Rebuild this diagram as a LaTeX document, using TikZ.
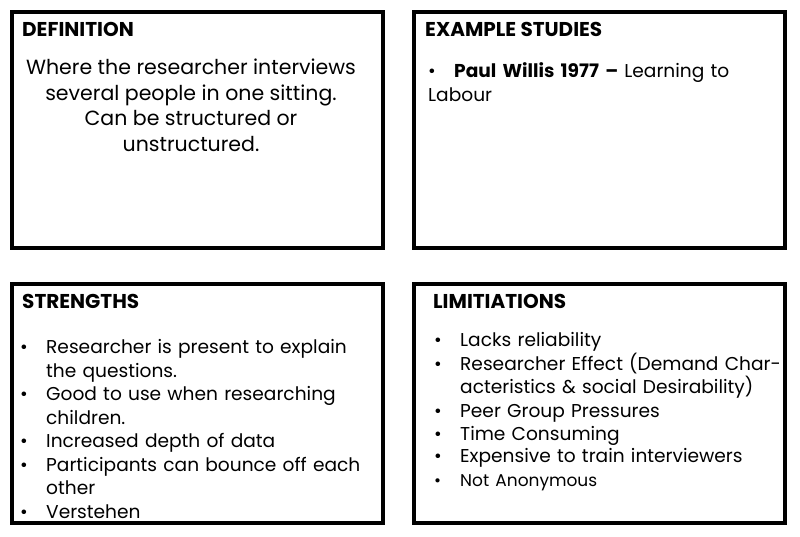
\documentclass[tikz,border=0pt]{standalone}
\usepackage{fontspec}
\setmainfont{Poppins}
\newcommand{\itm}[1]{\par\hangindent=26pt\hangafter=1\noindent\makebox[26pt][l]{\textbullet}#1}
\begin{document}
\begin{tikzpicture}[x=1pt,y=-1pt,
  card/.style={draw=black,line width=3.2pt,fill=white},
  head/.style={anchor=west,font=\fontsize{20}{22}\selectfont\bfseries,inner sep=0},
  list/.style={anchor=north west,font=\fontsize{18.6}{23.5}\selectfont,inner sep=0,text width=350,align=left}]
\useasboundingbox (0,0) rectangle (800,536);
\draw[card] (12,12) rectangle (383,248);
\draw[card] (414,12) rectangle (785,248);
\draw[card] (12,284) rectangle (383,523);
\draw[card] (414,284) rectangle (785,523);
\node[head] (h1) at (22,29) {DEFINITION};
\node[head] (h2) at (425,29) {EXAMPLE STUDIES};
\node[head] (h3) at (22,301) {STRENGTHS};
\node[head] (h4) at (433,301) {LIMITIATIONS};
\node[anchor=north,inner sep=0,align=center,font=\fontsize{20.5}{25.5}\selectfont] (d) at (191,59)
 {Where the researcher interviews\\several people in one sitting.\\Can be structured or\\unstructured.};
\node[list,text width=320] (e) at (428,54) {\itm{\textbf{Paul Willis 1977 –} Learning to Labour}};
\node[list] (s) at (20,330) {%
\itm{Researcher is present to explain the questions.}
\itm{Good to use when researching children.}
\itm{Increased depth of data}
\itm{Participants can bounce off each other}
\itm{Verstehen}};
\node[list] (l) at (434,323) {%
\itm{Lacks reliability}
\itm{Researcher Effect (Demand Characteristics \& social Desirability)}
\itm{Peer Group Pressures}
\itm{Time Consuming}
\itm{Expensive to train interviewers}
{\fontsize{17}{22}\selectfont\itm{Not Anonymous}}};
\end{tikzpicture}
\end{document}
